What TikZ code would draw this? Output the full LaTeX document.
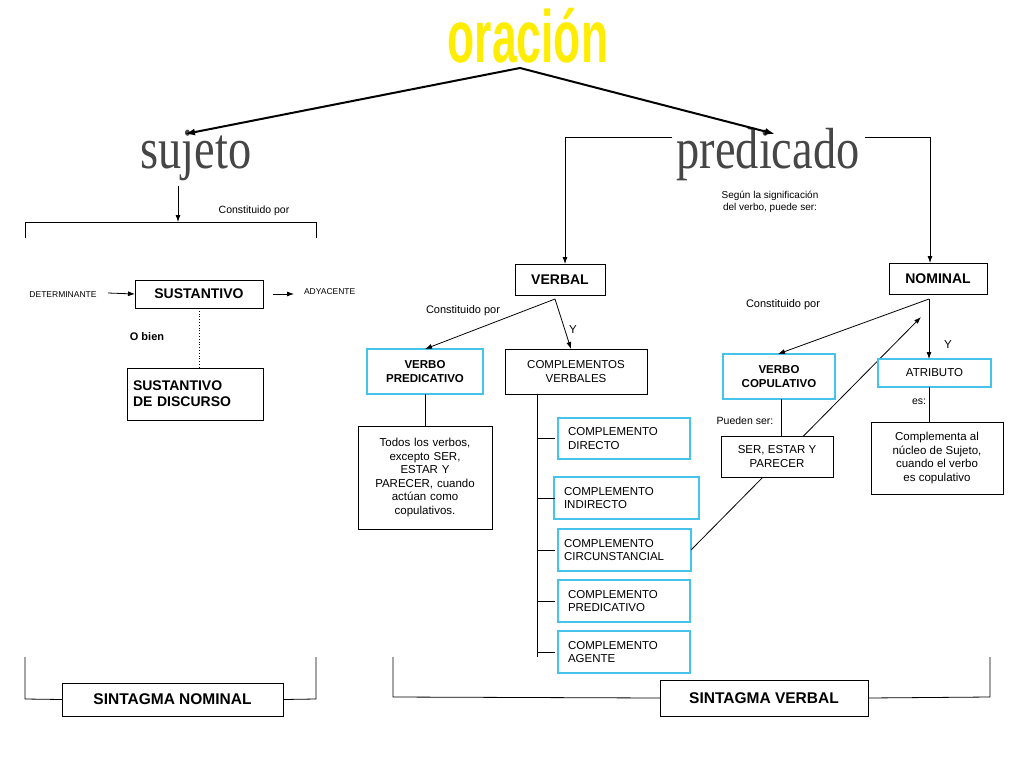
\documentclass[tikz,border=0pt]{standalone}
\usepackage{fontspec}
\usetikzlibrary{arrows.meta}
\setmainfont{Liberation Sans}
\newfontfamily\serifttl{Liberation Serif}
\definecolor{cy}{RGB}{70,195,235}
\definecolor{ttlgray}{RGB}{70,70,70}
\begin{document}
\begin{tikzpicture}[x=1pt,y=-1pt,line width=0.8pt,
  every node/.style={inner sep=0pt,outer sep=0pt},
  txt/.style={font=\fontsize{11.5}{13}\selectfont,align=center},
  small/.style={font=\fontsize{8.5}{10}\selectfont},
  bx/.style={draw,fill=white,font=\fontsize{11.5}{13.5}\selectfont,align=center,minimum width=#1},
  cbx/.style={draw=cy,line width=1.2pt,fill=white,font=\fontsize{11.5}{13.5}\selectfont,align=left,minimum width=#1},
  bbx/.style={draw,line width=1pt,fill=white,font=\bfseries\fontsize{14}{16}\selectfont,align=center},
  arr/.style={-{Latex[length=7pt,width=5pt]}},
  thickarr/.style={-{Latex[length=10pt,width=7pt]},line width=2pt},
  ttl/.style={font=\serifttl\fontsize{58}{58}\selectfont,text=ttlgray,xscale=0.8}
]
\useasboundingbox (0,0) rectangle (1024,768);
% titles
\node[font=\bfseries\fontsize{74}{74}\selectfont,text=yellow!95!orange,xscale=0.6] (or) at (528,36) {oración};
\node[ttl] (suj) at (196,155) {sujeto};
\node[ttl] (pre) at (768,155) {predicado};
\coordinate (o) at (520,68);
\coordinate (sa) at (185,134);
\coordinate (pa) at (775,134);
\draw[thickarr] (o) -- (sa);
\draw[thickarr] (o) -- (pa);
% sujeto side
\coordinate (s1) at (178,186);
\coordinate (s2) at (178,222);
\draw[arr] (s1) -- (s2);
\node[txt,font=\fontsize{10.5}{12}\selectfont] (cp1) at (254,211) {Constituido por};
\coordinate (b1) at (25,238); \coordinate (b2) at (316,238);
\draw (b1) -- (25,222) -- (316,222) -- (b2);
\node[bbx,inner sep=4pt,minimum width=128pt,minimum height=28pt] (sus) at (199,294) {SUSTANTIVO};
\node[small] (det) at (63,295) {DETERMINANTE};
\coordinate (d1) at (108,293);
\draw[arr] (d1) -- (sus.west);
\coordinate (a1) at (273,294); \coordinate (a2) at (294,294);
\draw[arr] (a1) -- (a2);
\node[small,anchor=west] (ady) at (304,292) {ADYACENTE};
\node[font=\bfseries\fontsize{11}{13}\selectfont] (ob) at (147,337) {O bien};
\node[bbx,align=left,anchor=north west,minimum width=136pt,minimum height=52pt,text width=124pt,inner xsep=6pt] (sdd) at (127,368) {SUSTANTIVO\\DE DISCURSO};
\draw[dotted] (sus.south) -- (sus.south |- sdd.north);
% bottom brackets
\node[bbx,minimum width=221pt,minimum height=33pt] (sn) at (172.5,699.5) {\fontsize{15.5}{17}\selectfont SINTAGMA NOMINAL};
\draw (25,657) -- (25,699) -- (sn.west);
\draw (316,657) -- (316,699) -- (sn.east);
\node[bbx,minimum width=208pt,minimum height=36pt] (sv) at (764,698) {\fontsize{15.5}{17}\selectfont SINTAGMA VERBAL};
\draw (393,657) -- (393,697) -- (sv.west);
\draw (990,657) -- (990,697) -- (sv.east);
% predicado bracket
\node[bbx,minimum width=90pt,minimum height=31pt] (vb) at (560,280) {VERBAL};
\node[bbx,minimum width=98pt,minimum height=31pt] (nm) at (938,279) {NOMINAL};
\draw[arr] (672,137) -- (565,137) -- (565,264);
\draw[arr] (865,137) -- (930,137) -- (930,263);
\node[txt,font=\fontsize{10}{12}\selectfont] (sg) at (770,202) {Según la significación\\del verbo, puede ser:};
% verbal
\coordinate (vp) at (555,299);
\node[cbx,align=center,minimum width=116pt,minimum height=45pt,font=\bfseries\fontsize{11.5}{13.5}\selectfont] (vpr) at (425,371.5) {VERBO\\PREDICATIVO};
\node[bx,minimum width=142pt,minimum height=45pt] (cv) at (576,371.5) {COMPLEMENTOS\\VERBALES};
\draw[arr] (vp) -- (vpr.north);
\draw[arr] (vp) -- (571,349);
\node[txt,font=\fontsize{11}{13}\selectfont] (cp2) at (463,311) {Constituido por};
\node[txt] (y1) at (573,330) {Y};
\node[bx,minimum width=134pt,minimum height=103pt,text width=120pt] (todos) at (425,477.5) {Todos los verbos,\\excepto SER,\\ESTAR Y\\PARECER, cuando\\actúan como\\copulativos.};
\draw (vpr.south) -- (todos.north);
% long line then boxes
\coordinate (lt) at (921,317);
\node[cbx,anchor=north west,minimum width=133pt,minimum height=42pt,text width=121pt,inner xsep=6pt] (cc) at (558,529) {COMPLEMENTO\\CIRCUNSTANCIAL};
\draw[arr] (cc.east) -- (lt);
\node[cbx,anchor=north west,minimum width=124pt,minimum height=41pt,text width=112pt,inner xsep=10pt] (cd) at (558,418) {COMPLEMENTO\\DIRECTO};
\node[cbx,anchor=north west,minimum width=137pt,minimum height=42pt,text width=125pt,inner xsep=10pt] (ci) at (554,477) {COMPLEMENTO\\INDIRECTO};
\node[cbx,anchor=north west,minimum width=124pt,minimum height=42pt,text width=112pt,inner xsep=10pt] (cpr) at (558,580) {COMPLEMENTO\\PREDICATIVO};
\node[cbx,anchor=north west,minimum width=124pt,minimum height=42pt,text width=112pt,inner xsep=10pt] (ca) at (558,631) {COMPLEMENTO\\AGENTE};
\coordinate (sp) at (537,394);
\draw (sp) -- (537,657);
\foreach \n in {cd,ci,cc,cpr,ca} \draw (537,0 |- \n.west) -- ++(18,0);
% nominal
\coordinate (np) at (929,299);
\node[cbx,align=center,minimum width=112pt,minimum height=45pt,font=\bfseries\fontsize{11.5}{13.5}\selectfont] (vc) at (779,376.5) {VERBO\\COPULATIVO};
\node[cbx,align=center,minimum width=113pt,minimum height=28pt] (at) at (934.5,373) {ATRIBUTO};
\draw[arr] (np) -- (778,354);
\draw[arr] (np) -- (929,359);
\node[txt,font=\fontsize{11}{13}\selectfont] (cp3) at (783,305) {Constituido por};
\node[txt] (y2) at (948,345) {Y};
\node[bx,minimum width=112pt,minimum height=41pt] (ser) at (777,456.5) {SER, ESTAR Y\\PARECER};
\draw (781,399) -- (781,436);
\node[txt,font=\fontsize{10.5}{12}\selectfont] (ps) at (745,421) {Pueden ser:};
\node[bx,minimum width=132pt,minimum height=72pt] (comp) at (937,458) {Complementa al\\núcleo de Sujeto,\\cuando el verbo\\es copulativo};
\draw (929,387) -- (comp.north -| 929,0);
\node[txt,font=\fontsize{10.5}{12}\selectfont] (es) at (919,402) {es:};
\end{tikzpicture}
\end{document}
